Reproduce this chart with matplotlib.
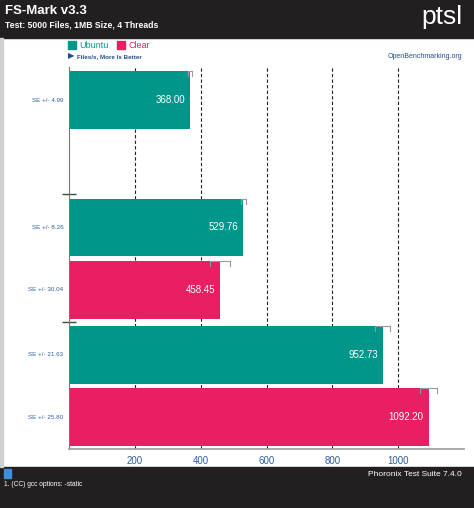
import matplotlib.pyplot as plt
import matplotlib.patches as mpatches
import numpy as np

plt.rcParams['font.family'] = ['Liberation Sans', 'DejaVu Sans']

# data
series = ['Ubuntu', 'Clear']
ubuntu = [368.00, 529.76, 952.73]
clear = [None, 458.45, 1092.20]
se_ubuntu = [4.99, 8.26, 21.63]
se_clear = [None, 30.04, 25.80]
xticks = [200, 400, 600, 800, 1000]

teal = '#00968a'
pink = '#e91e63'
dark = '#231f20'
blue_txt = '#2f5f9a'

fig = plt.figure(figsize=(4.74, 5.08), dpi=100)
fig.patch.set_facecolor('white')

# header and footer bands
fig.patches.append(mpatches.Rectangle((0, 1 - 38 / 508), 1, 38 / 508, transform=fig.transFigure,
                                      color=dark, zorder=0))
fig.patches.append(mpatches.Rectangle((0, 0), 1, 41 / 508, transform=fig.transFigure,
                                      color=dark, zorder=0))
fig.patches.append(mpatches.Rectangle((0, 41 / 508), 3 / 474, 1 - 79 / 508, transform=fig.transFigure,
                                      color='#d0d0d0', zorder=0))

fig.text(5 / 474, 1 - 11 / 508, 'FS-Mark v3.3', color='white', fontsize=9.5, fontweight='bold', va='center')
fig.text(5 / 474, 1 - 25 / 508, 'Test: 5000 Files, 1MB Size, 4 Threads', color='white', fontsize=6.2,
         fontweight='bold', va='center')
fig.text(462 / 474, 1 - 17 / 508, 'ptsl', color='white', fontsize=19, ha='right', va='center')

fig.text(462 / 474, 1 - 474 / 508, 'Phoronix Test Suite 7.4.0', color='white', fontsize=6,
         ha='right', va='center')
fig.text(4 / 474, 1 - 485 / 508, '1. (CC) gcc options: -static', color='white', fontsize=4.8, va='center')
fig.patches.append(mpatches.Rectangle((4 / 474, 1 - 478 / 508), 7 / 474, 9 / 508, transform=fig.transFigure,
                                      color='#3d8fd6', zorder=1))

# legend
for i, (name, col) in enumerate(zip(series, [teal, pink])):
    x0 = [68, 117][i] / 474
    fig.patches.append(mpatches.Rectangle((x0, 1 - 49 / 508), 8 / 474, 8 / 508, transform=fig.transFigure,
                                          color=col, zorder=1))
    fig.text(x0 + 11 / 474, 1 - 45 / 508, name, color=col, fontsize=6.5, va='center')
fig.text(68 / 474, 1 - 57 / 508, '\u25B6', color='#1f4e8c', fontsize=6, va='center')
fig.text(77 / 474, 1 - 57 / 508, 'Files/s, More Is Better', color='#1f4e8c', fontsize=4.5,
         fontweight='bold', va='center')
fig.text(462 / 474, 1 - 57 / 508, 'OpenBenchmarking.org', color='#1f4e8c', fontsize=5, ha='right', va='center')

ax = fig.add_axes([69 / 474, 59 / 508, 395 / 474, 382 / 508])
ax.set_xlim(0, 1200)
ax.set_ylim(3, 0)

h = 0.453
offs = [0.26, 0.75]
for g in range(len(ubuntu)):
    for k, (vals, ses, col) in enumerate([(ubuntu, se_ubuntu, teal), (clear, se_clear, pink)]):
        v = vals[g]
        if v is None:
            continue
        yc = g + offs[k]
        ax.barh(yc, v, height=h, color=col, zorder=2)
        ax.text(v - 15, yc, f'{v:.2f}', color='white', fontsize=7, ha='right', va='center', zorder=3)
        ytop = yc - h / 2
        se = ses[g]
        ax.plot([v - se, v + se], [ytop, ytop], color='#999999', lw=0.8, zorder=3)
        ax.plot([v - se, v - se], [ytop, ytop + 0.04], color='#999999', lw=0.8, zorder=3)
        ax.plot([v + se, v + se], [ytop, ytop + 0.04], color='#999999', lw=0.8, zorder=3)
        ax.annotate(f'SE +/- {se:.2f}', xy=(0, yc), xycoords=('axes fraction', 'data'),
                    xytext=(-4, 0), textcoords='offset points', ha='right', va='center',
                    fontsize=4.5, color=blue_txt)

for x in xticks:
    ax.axvline(x, color='#222222', lw=0.8, ls=(0, (3, 2)), zorder=1)

for s in ['top', 'right']:
    ax.spines[s].set_visible(False)
ax.spines['left'].set_color('#777777')
ax.spines['bottom'].set_color('#999999')
ax.spines['bottom'].set_linewidth(1.2)

ax.set_xticks(xticks)
ax.set_xticklabels([str(x) for x in xticks], color=blue_txt, fontsize=7)
ax.tick_params(axis='x', length=0, pad=5)
ax.set_yticks([1, 2])
ax.set_yticklabels([])
ax.tick_params(axis='y', direction='inout', length=10, color='#444444', width=1)

fig.savefig('out.png', dpi=100)
